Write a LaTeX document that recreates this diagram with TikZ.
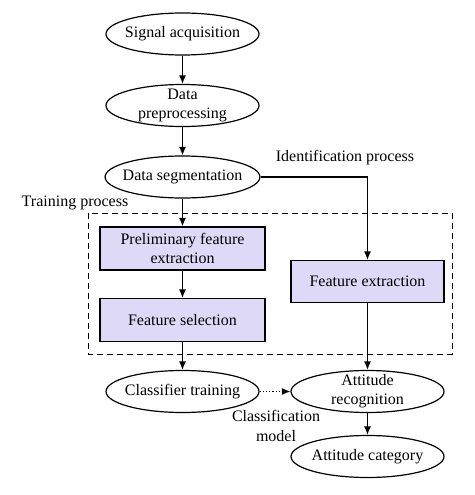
\documentclass[tikz,border=0pt]{standalone}
\usepackage{fontspec}
\setmainfont{Liberation Serif}
\usetikzlibrary{arrows.meta,shapes.geometric,positioning}
\definecolor{lavender}{RGB}{221,217,247}
\tikzset{
  oval/.style={draw,ellipse,line width=1.2pt,minimum width=153pt,minimum height=42pt,
    inner xsep=-5pt,inner ysep=-3pt,align=center},
  stage/.style={draw,fill=lavender,line width=1.2pt,minimum width=165pt,minimum height=43pt,
    inner sep=0pt,align=center},
  note/.style={align=center}
}

\begin{document}
\begin{tikzpicture}[x=1pt,y=1pt,node distance=71.5pt and 185pt,on grid,
    >={Latex[length=8.5pt,width=7pt]},font=\fontsize{16}{19}\selectfont]
    \useasboundingbox (0,0) rectangle (474,-495);
    \node[oval] (sig) at (182.5,-34) {Signal acquisition};
    \node[oval] (pre) [below=of sig] {Data\\preprocessing};
    \node[oval] (seg) [below=of pre] {Data segmentation};
    \node[stage] (pfe) [below=of seg] {Preliminary feature\\extraction};
    \node[stage] (fs) [below=of pfe] {Feature selection};
    \node[oval] (ct) [below=of fs] {Classifier training};
    \node[oval] (ar) [right=of ct] {Attitude\\recognition};
    \node[oval] (ac) [below=65pt of ar] {Attitude category};
    \node[stage,minimum width=153pt,minimum height=42pt] (fe) [above=110pt of ar] {Feature extraction};
    \node[note] (idp) at (345,-158) {Identification process};
    \node[note] (trp) at (75,-203) {Training process};
    \node[note,font=\fontsize{16}{20}\selectfont] (cm) at (276,-426) {Classification\\model};
    % training area
    \draw[line width=1pt,dash pattern=on 6pt off 4pt] (88,-213) rectangle (452,-354);
    \path[->,line width=1.2pt]
    (sig) edge (pre)
    (pre) edge (seg)
    (seg) edge (pfe)
    (pfe) edge (fs)
    (fs) edge (ct)
    (fe) edge (ar)
    (ar) edge (ac)
    (ct) edge[dotted] (ar);
    \draw[->,line width=1.2pt] (seg.east) -| (fe.north);
\end{tikzpicture}
\end{document}
